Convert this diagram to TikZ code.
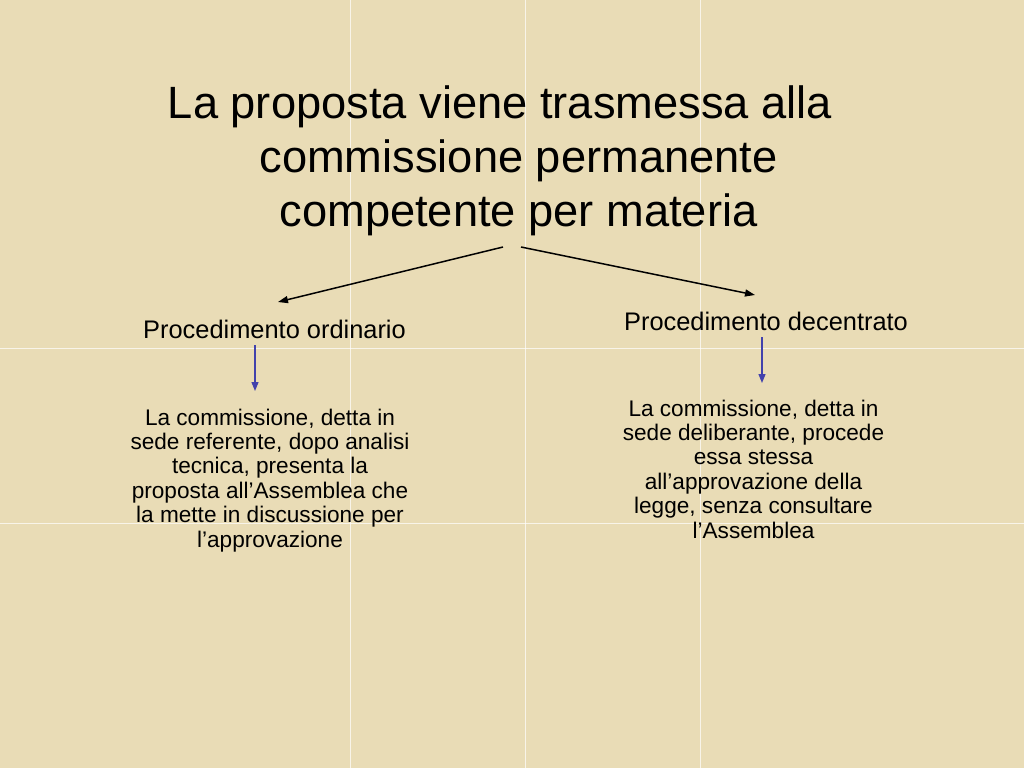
\documentclass[tikz,border=0pt]{standalone}
\usepackage{fontspec}
\setmainfont{Liberation Sans}
\usetikzlibrary{arrows.meta}
\definecolor{parchment}{RGB}{233,220,182}
\definecolor{arrowblue}{RGB}{66,66,172}
\tikzset{
	seam/.style={white, opacity=.7, line width=1pt}
}
\tikzstyle{titletext}=[font=\fontsize{45.25}{54}\selectfont, align=center, inner sep=0pt]
\tikzstyle{headtext}=[font=\fontsize{25.4}{30}\selectfont, inner sep=0pt]
\tikzstyle{bodytext}=[font=\fontsize{22.6}{24.4}\selectfont, align=center, inner sep=0pt]
\tikzstyle{branch}=[line width=1.5pt, -{Triangle[length=10pt,width=7pt]}]
\tikzstyle{down}=[arrowblue, line width=1.3pt, -{Triangle[length=9pt,width=7pt]}]
\begin{document}
\begin{tikzpicture}[x=1pt,y=-1pt]
	\fill[parchment] (0,0) rectangle (1024,768);
	\useasboundingbox (0,0) rectangle (1024,768);
	\foreach \x in {350,525,700} \draw[seam] (\x,0) -- (\x,768);
	\foreach \y in {348,523} \draw[seam] (0,\y) -- (1024,\y);
	% testo
	\node[titletext, anchor=base] (proposta) at (518.5,226) {La proposta viene trasmessa alla\hspace*{37pt}\\ commissione permanente\\ competente per materia};
	\node[headtext, anchor=base] (ordinario) at (274.5,338) {Procedimento ordinario};
	\node[headtext, anchor=base] (decentrato) at (766,330) {Procedimento decentrato};
	\node[bodytext, anchor=base] (referente) at (270,547) {La commissione, detta in\\ sede referente, dopo analisi\\ tecnica, presenta la\\ proposta all’Assemblea che\\ la mette in discussione per\\ l’approvazione};
	\node[bodytext, anchor=base] (deliberante) at (753.5,538) {La commissione, detta in\\ sede deliberante, procede\\ essa stessa\\ all’approvazione della\\ legge, senza consultare\\ l’Assemblea};
	% frecce
	\coordinate (split-l) at (503,247);
	\coordinate (split-r) at (521,247);
	\coordinate (ord-in) at (278,302);
	\coordinate (dec-in) at (755,295);
	\coordinate (ord-out) at (255,345);
	\coordinate (ref-in) at (255,391);
	\coordinate (dec-out) at (762,337);
	\coordinate (del-in) at (762,383);
	\draw[branch] (split-l) -- (ord-in);
	\draw[branch] (split-r) -- (dec-in);
	\draw[down] (ord-out) -- (ref-in);
	\draw[down] (dec-out) -- (del-in);
\end{tikzpicture}
\end{document}
